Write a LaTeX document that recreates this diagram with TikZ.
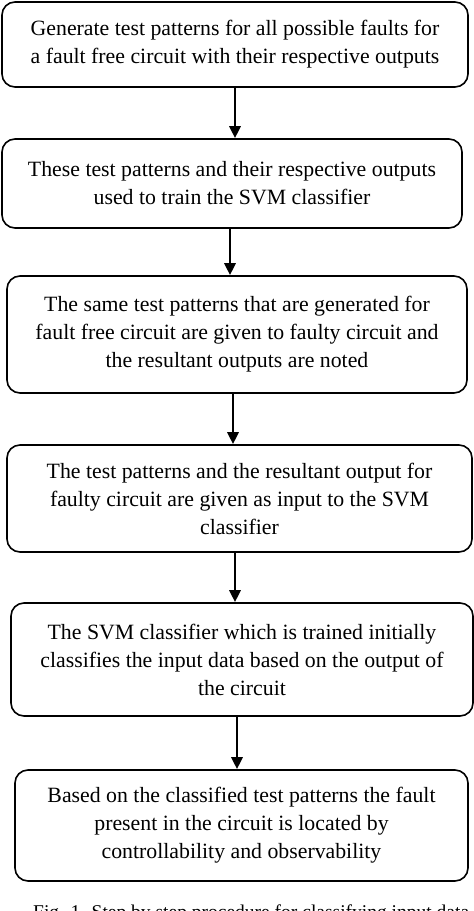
\documentclass[tikz,border=0pt]{standalone}
\usepackage{fontspec}
\setmainfont{Liberation Serif}
\usetikzlibrary{arrows.meta, positioning}

\begin{document}
\begin{tikzpicture}
            [
            x=1pt, y=-1pt,
            stepbox/.style={
                rectangle,
                draw,
                line width=1.6pt,
                rounded corners=13pt,
                align=center,
                inner sep=0pt,
                font=\fontsize{21.8}{28}\selectfont
            },
            arrow/.style={
                -{Triangle[length=12pt, width=11pt]},
                line width=2.8pt
            }
            ]
            % fix the page to the size of the picture
            \useasboundingbox (0,0) rectangle (474,911);
            \clip (0,0) rectangle (474,911);

            % the six steps, from top to bottom
            \node (gen) [stepbox, minimum width=466pt, minimum height=85pt] at (235,44.5)
                {Generate test patterns for all possible faults for\\a fault free circuit with their respective outputs};
            \node (train) [stepbox, minimum width=460pt, minimum height=89pt] at (232,183.5)
                {These test patterns and their respective outputs\\used to train the SVM classifier};
            \node (faulty) [stepbox, minimum width=460pt, minimum height=117pt] at (237,334.5)
                {The same test patterns that are generated for\\fault free circuit are given to faulty circuit and\\the resultant outputs are noted};
            \node (input) [stepbox, minimum width=465pt, minimum height=107pt] at (239.5,498.5)
                {The test patterns and the resultant output for\\faulty circuit are given as input to the SVM\\classifier};
            \node (classify) [stepbox, minimum width=462pt, minimum height=113pt] at (242,659.5)
                {The SVM classifier which is trained initially\\classifies the input data based on the output of\\the circuit};
            \node (locate) [stepbox, minimum width=453pt, minimum height=111pt] at (241.5,825.5)
                {Based on the classified test patterns the fault\\present in the circuit is located by\\controllability and observability};

            % caption, cut off by the lower edge
            \node (caption) [anchor=base west, inner sep=0pt, font=\fontsize{19.5}{24}\selectfont] at (33,918)
                {Fig. 1. Step by step procedure for classifying input data};

            % arrows between the steps
            \draw[arrow] (gen.south) -- (gen.south |- train.north);
            \draw[arrow] ([xshift=-2pt]train.south) -- ([xshift=-2pt]train.south |- faulty.north);
            \draw[arrow] ([xshift=-4pt]faulty.south) -- ([xshift=-4pt]faulty.south |- input.north);
            \draw[arrow] ([xshift=-4.5pt]input.south) -- ([xshift=-4.5pt]input.south |- classify.north);
            \draw[arrow] ([xshift=-5pt]classify.south) -- ([xshift=-5pt]classify.south |- locate.north);

        \end{tikzpicture}
\end{document}
